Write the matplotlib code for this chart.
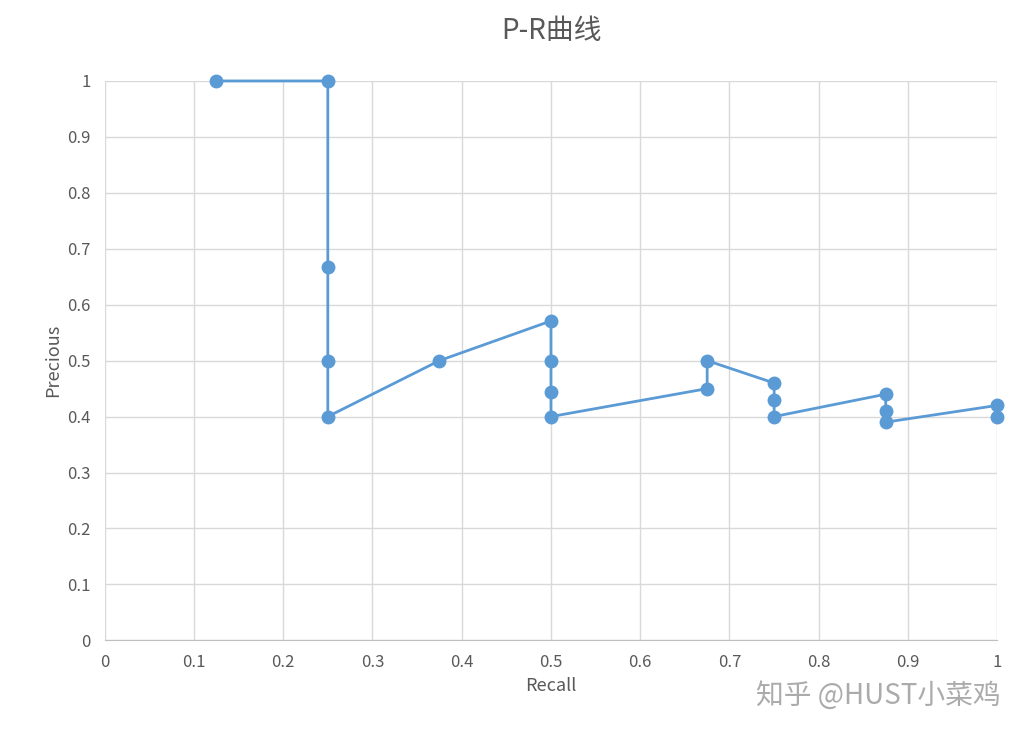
import matplotlib.pyplot as plt
import numpy as np

plt.rcParams['font.family'] = ['Noto Sans CJK SC', 'DejaVu Sans']

recall = [0.125, 0.25, 0.25, 0.25, 0.25, 0.375, 0.5, 0.5, 0.5, 0.5,
          0.675, 0.675, 0.75, 0.75, 0.75, 0.875, 0.875, 0.875, 1.0, 1.0]
precious = [1.0, 1.0, 0.667, 0.5, 0.4, 0.5, 0.571, 0.5, 0.444, 0.4,
            0.45, 0.5, 0.46, 0.43, 0.4, 0.44, 0.41, 0.39, 0.42, 0.4]
ticks = np.round(np.arange(0, 1.01, 0.1), 1)
tick_labels = ["0", "0.1", "0.2", "0.3", "0.4", "0.5", "0.6", "0.7", "0.8", "0.9", "1"]

fig = plt.figure(figsize=(10.26, 7.36), dpi=100)
ax = fig.add_axes([0.102, 0.130, 0.870, 0.760])
ax.plot(recall, precious, color="#5b9bd5", lw=2, marker="o", ms=9, zorder=3,
        clip_on=False)
ax.set_xlim(0, 1)
ax.set_ylim(0, 1)
ax.set_xticks(ticks)
ax.set_xticklabels(tick_labels)
ax.set_yticks(ticks)
ax.set_yticklabels(tick_labels)
ax.grid(True, color="#d9d9d9", lw=1)
ax.tick_params(length=0, labelsize=12, colors="#595959", pad=10)
for side in ["top", "right", "left"]:
    ax.spines[side].set_visible(False)
ax.spines["bottom"].set_color("#bfbfbf")
ax.set_xlabel("Recall", fontsize=13, color="#595959")
ax.set_ylabel("Precious", fontsize=13, color="#595959")
ax.set_title("P-R曲线", fontsize=20, color="#595959", pad=30)
fig.text(0.975, 0.055, "知乎 @HUST小菜鸡", ha="right", va="center",
         fontsize=20, color="#888888", alpha=0.7)

fig.savefig("out.png", dpi=100)
